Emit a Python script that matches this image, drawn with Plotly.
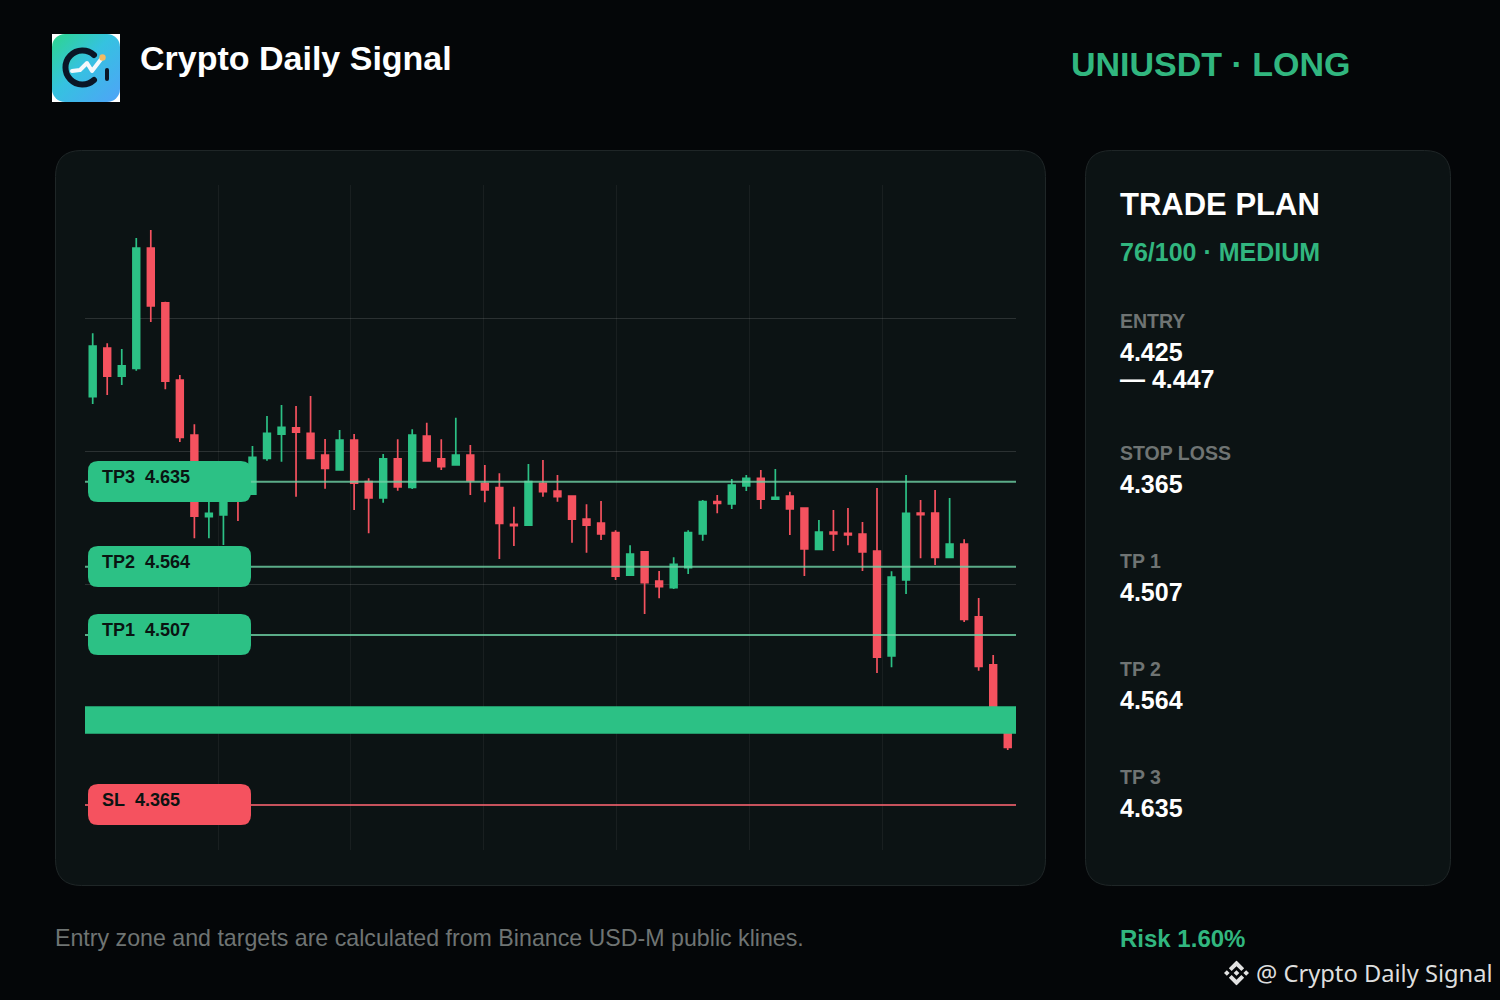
import base64
import plotly.graph_objects as go

W = 1500
H = 1000

BG = '#040608'
PANEL = '#0c1314'
BORDER = '#1f2627'
GREEN = '#2cc185'
RED = '#f5525f'
TEXT_GREEN = '#31b67f'
GRAY = '#6f7473'

# candles, oldest first
opens = [4.7061, 4.7468, 4.7234, 4.7298, 4.8303, 4.7846, 4.7201, 4.6741,
         4.6059, 4.6073, 4.6323, 4.6248, 4.6546, 4.6749, 4.6800, 4.6755,
         4.6574, 4.6449, 4.6699, 4.6351, 4.6215, 4.6541, 4.6304, 4.6733,
         4.6541, 4.6491, 4.6574, 4.6338, 4.6301, 4.5995, 4.5989, 4.6338,
         4.6273, 4.6231, 4.6039, 4.6006, 4.5925, 4.5571, 4.5764, 4.5521,
         4.5465, 4.5632, 4.5914, 4.6184, 4.6165, 4.6317, 4.6379, 4.6206,
         4.6231, 4.6131, 4.5786, 4.5931, 4.5920, 4.5914, 4.5772, 4.4895,
         4.5530, 4.6089, 4.6089, 4.5719, 4.5830, 4.5221, 4.4820, 4.4343]
highs = [4.7591, 4.7507, 4.7460, 4.8387, 4.8454, 4.7855, 4.7242, 4.6831,
         4.6282, 4.6449, 4.6449, 4.6649, 4.6900, 4.6992, 4.6983, 4.7067,
         4.6708, 4.6783, 4.6749, 4.6379, 4.6582, 4.6705, 4.6789, 4.6844,
         4.6705, 4.6886, 4.6658, 4.6491, 4.6421, 4.6142, 4.6499, 4.6532,
         4.6407, 4.6237, 4.6162, 4.6190, 4.5945, 4.5820, 4.5769, 4.5605,
         4.5719, 4.5945, 4.6198, 4.6240, 4.6373, 4.6407, 4.6449, 4.6457,
         4.6267, 4.6131, 4.6031, 4.6114, 4.6131, 4.6014, 4.6298, 4.5602,
         4.6407, 4.6198, 4.6282, 4.6215, 4.5870, 4.5379, 4.4903, 4.4402]
lows = [4.7000, 4.7075, 4.7159, 4.7278, 4.7685, 4.7123, 4.6683, 4.5878,
        4.5878, 4.5822, 4.6022, 4.6240, 4.6526, 4.6518, 4.6226, 4.6538,
        4.6292, 4.6443, 4.6114, 4.5920, 4.6175, 4.6276, 4.6290, 4.6524,
        4.6449, 4.6485, 4.6240, 4.6179, 4.5705, 4.5814, 4.5983, 4.6226,
        4.6184, 4.5841, 4.5758, 4.5864, 4.5530, 4.5571, 4.5246, 4.5377,
        4.5455, 4.5580, 4.5858, 4.6087, 4.6123, 4.6273, 4.6123, 4.6206,
        4.5906, 4.5563, 4.5781, 4.5772, 4.5820, 4.5605, 4.4753, 4.4800,
        4.5413, 4.5711, 4.5655, 4.5711, 4.5179, 4.4772, 4.4277, 4.4110]
closes = [4.7485, 4.7234, 4.7318, 4.8303, 4.7819, 4.7192, 4.6722, 4.6064,
          4.6087, 4.6323, 4.6248, 4.6555, 4.6755, 4.6805, 4.6766, 4.6546,
          4.6463, 4.6699, 4.6338, 4.6215, 4.6541, 4.6307, 4.6741, 4.6524,
          4.6476, 4.6574, 4.6359, 4.6282, 4.6003, 4.5983, 4.6351, 4.6267,
          4.6226, 4.6039, 4.5989, 4.5914, 4.5563, 4.5747, 4.5507, 4.5474,
          4.5661, 4.5925, 4.6184, 4.6170, 4.6323, 4.6379, 4.6206, 4.6221,
          4.6123, 4.5789, 4.5931, 4.5914, 4.5906, 4.5764, 4.4886, 4.5555,
          4.6087, 4.6075, 4.5719, 4.5830, 4.5201, 4.4809, 4.4360, 4.4132]

# trade plan levels
level_names = ['TP3', 'TP2', 'TP1', 'SL']
level_prices = [4.635, 4.564, 4.507, 4.365]
level_colors = [GREEN, GREEN, GREEN, RED]
level_line_colors = ['#6fd3a6', '#6fd3a6', '#6fd3a6', '#f5626e']
entry_low = 4.425
entry_high = 4.447

price_range = [4.3274, 4.8830]
price_grid = [4.4385, 4.5496, 4.6607, 4.7718]
candle_range = [-0.53, 63.57]
candle_grid = [8.627, 17.75, 26.91, 36.06, 45.22, 54.38]

plan_labels = ['ENTRY', 'STOP LOSS', 'TP 1', 'TP 2', 'TP 3']
plan_values = ['4.425', '4.365', '4.507', '4.564', '4.635']
plan_label_y = [321, 453, 561, 669, 777]
plan_value_y = [352, 484, 592, 700, 808]


def px(x):
    return x / W


def py(y):
    return 1 - y / H


def rounded_rect(x0, y0, x1, y1, r):
    # svg path in paper coordinates, input in page pixels
    pts = [('M', x0 + r, y0), ('L', x1 - r, y0), ('Q', x1, y0, x1, y0 + r),
           ('L', x1, y1 - r), ('Q', x1, y1, x1 - r, y1), ('L', x0 + r, y1),
           ('Q', x0, y1, x0, y1 - r), ('L', x0, y0 + r), ('Q', x0, y0, x0 + r, y0)]
    out = []
    for p in pts:
        coords = []
        for i in range(1, len(p), 2):
            coords.append(f'{px(p[i]):.5f},{py(p[i + 1]):.5f}')
        out.append(p[0] + ' '.join(coords))
    return ' '.join(out) + ' Z'


def svg_uri(svg):
    return 'data:image/svg+xml;base64,' + base64.b64encode(svg.encode()).decode()


logo_svg = '''<svg xmlns="http://www.w3.org/2000/svg" width="68" height="68" viewBox="0 0 68 68">
<defs><linearGradient id="g" x1="0" y1="0" x2="1" y2="1">
<stop offset="0" stop-color="#2dd68c"/><stop offset="0.45" stop-color="#35c2e0"/><stop offset="1" stop-color="#4fa3f8"/>
</linearGradient></defs>
<rect width="68" height="68" fill="#ffffff"/>
<rect width="68" height="68" rx="13" fill="url(#g)"/>
<path d="M42 21 A17 17 0 1 0 42 46" fill="none" stroke="#0a1626" stroke-width="6" stroke-linecap="round"/>
<rect x="53" y="34" width="4" height="13" rx="2" fill="#0a1626"/>
<path d="M20 37 L28 36 L35 29 L40 37 L50 24" fill="none" stroke="#f4f8fb" stroke-width="4" stroke-linejoin="round" stroke-linecap="round"/>
<circle cx="50.5" cy="23.5" r="3.2" fill="#f2bb62"/>
</svg>'''

binance_svg = '''<svg xmlns="http://www.w3.org/2000/svg" width="126.6" height="126.6" viewBox="0 0 126.61 126.61">
<path fill="#e2e2e2" d="M38.73 53.2l24.59-24.58 24.6 24.6 14.3-14.31L63.32 0 24.42 38.9l14.31 14.3zM0 63.31l14.3-14.31 14.31 14.31-14.31 14.3zM38.73 73.41l24.59 24.59 24.6-24.6 14.31 14.29-38.9 38.91-38.91-38.88-.02-.02zM97.99 63.31l14.3-14.31 14.32 14.31-14.31 14.3zM77.83 63.3L63.32 48.78 52.59 59.51l-1.24 1.23-2.54 2.54 14.51 14.5 14.51-14.47z"/>
</svg>'''

fig = go.Figure()

fig.add_trace(go.Candlestick(
    x=list(range(len(opens))),
    open=opens,
    high=highs,
    low=lows,
    close=closes,
    whiskerwidth=0,
    increasing=dict(line=dict(color=GREEN, width=1.7), fillcolor=GREEN),
    decreasing=dict(line=dict(color=RED, width=1.7), fillcolor=RED),
    showlegend=False,
))

shapes = []
# panels
shapes.append(dict(type='path', path=rounded_rect(55.5, 150.5, 1045.5, 885.5, 26), xref='paper', yref='paper',
                   fillcolor=PANEL, line=dict(color=BORDER, width=1), layer='below'))
shapes.append(dict(type='path', path=rounded_rect(1085.5, 150.5, 1450.5, 885.5, 26), xref='paper', yref='paper',
                   fillcolor=PANEL, line=dict(color=BORDER, width=1), layer='below'))

# entry zone sits over the candles
shapes.append(dict(type='rect', xref='x', yref='y', x0=candle_range[0], x1=candle_range[1],
                   y0=entry_low, y1=entry_high, fillcolor=GREEN, line=dict(color=GREEN, width=1), layer='above'))

label_tops = [461, 546, 614, 784]
annotations = []
for name, price, color, line_color, top in zip(level_names, level_prices, level_colors, level_line_colors, label_tops):
    shapes.append(dict(type='line', xref='x', yref='y', x0=candle_range[0], x1=candle_range[1],
                       y0=price, y1=price, line=dict(color=line_color, width=2), opacity=0.8, layer='above'))
    shapes.append(dict(type='path', path=rounded_rect(88, top, 251, top + 41, 10), xref='paper', yref='paper',
                       fillcolor=color, line=dict(width=0), layer='above'))
    annotations.append(dict(text=f'{name}\u00a0\u00a0{price:.3f}', x=px(100), y=py(top + 16), xref='paper', yref='paper',
                            xanchor='left', yanchor='middle', showarrow=False,
                            font=dict(family='Liberation Sans', size=18, color='#0a1412', weight=700)))


def add_text(x, y, text, size, color, bold=True, family='Liberation Sans'):
    # annotations carry 2px of padding on the left
    annotations.append(dict(text=text, x=px(x - 2), y=py(y), xref='paper', yref='paper',
                            xanchor='left', yanchor='middle', showarrow=False, align='left',
                            font=dict(family=family, size=size, color=color, weight=700 if bold else 400)))


add_text(140, 58, 'Crypto Daily Signal', 34, '#ffffff')
add_text(1071, 63.5, 'UNIUSDT · LONG', 34, TEXT_GREEN)
add_text(1120, 205, 'TRADE PLAN', 31, '#ffffff')
add_text(1120, 252, '76/100 · MEDIUM', 25, TEXT_GREEN)
for label, value, ly, vy in zip(plan_labels, plan_values, plan_label_y, plan_value_y):
    add_text(1120, ly, label, 19.5, GRAY)
    add_text(1120, vy, value, 25, '#ffffff')
add_text(1120, 379, '— 4.447', 25, '#ffffff')
add_text(55, 938, 'Entry zone and targets are calculated from Binance USD-M public klines.', 23.2, GRAY, bold=False)
add_text(1120, 938.5, 'Risk 1.60%', 24, TEXT_GREEN)
add_text(1256, 972.5, '@ Crypto Daily Signal', 23.7, '#dedede', bold=False, family='Noto Sans')

images = [
    dict(source=svg_uri(logo_svg), xref='paper', yref='paper', x=px(52), y=py(34), sizex=68 / W, sizey=68 / H,
         xanchor='left', yanchor='top', sizing='stretch', layer='above'),
    dict(source=svg_uri(binance_svg), xref='paper', yref='paper', x=px(1224), y=py(960.5), sizex=25 / W, sizey=25 / H,
         xanchor='left', yanchor='top', sizing='stretch', layer='above'),
]

fig.update_layout(
    width=W,
    height=H,
    margin=dict(l=0, r=0, t=0, b=0),
    paper_bgcolor=BG,
    plot_bgcolor='rgba(0,0,0,0)',
    boxgap=0.34,
    showlegend=False,
    shapes=shapes,
    annotations=annotations,
    images=images,
    xaxis=dict(domain=[px(85), px(1016)], range=candle_range, tickvals=candle_grid, showticklabels=False,
               ticks='', showgrid=True, gridcolor='rgba(255,255,255,0.055)', gridwidth=1, zeroline=False,
               showline=False, rangeslider=dict(visible=False)),
    yaxis=dict(domain=[py(850), py(185)], range=price_range, tickvals=price_grid, showticklabels=False,
               ticks='', showgrid=True, gridcolor='rgba(255,255,255,0.13)', gridwidth=1, zeroline=False,
               showline=False),
)

# page margin off so the figure fills the window
fig.write_html("out.html", config=dict(displayModeBar=False),
               post_script="document.body.style.margin='0';document.body.style.overflow='hidden';")
